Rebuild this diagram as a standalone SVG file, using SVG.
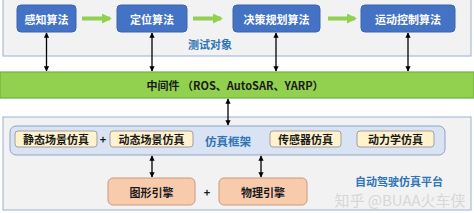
<svg xmlns="http://www.w3.org/2000/svg" width="474" height="213" viewBox="0 0 474 213">
<style>
text{font-family:"Noto Sans CJK SC","Noto Sans",sans-serif;font-weight:bold;font-size:11px;text-anchor:middle;dominant-baseline:central}
.panel{fill:#f2f2f2;stroke:#a9bcd8;stroke-width:1.2}
.algo{fill:#4472c4;stroke:#3a64ad;stroke-width:1}
.algo-t{fill:#ffffff}
.sim{fill:#fff2cc;stroke:#a0a0a0;stroke-width:1}
.eng{fill:#f8cbad;stroke:#c99a7c;stroke-width:1}
.dark{fill:#1a1a1a}
.blue{fill:#2e75b6}
.conn{stroke:#000;stroke-width:1.3;fill:none;marker-start:url(#ah);marker-end:url(#ah)}
.garrow{stroke:#92d050;stroke-width:4;fill:none;marker-end:url(#gh)}
</style>
<defs>
<marker id="ah" viewBox="0 0 10 10" refX="9" refY="5" markerWidth="4" markerHeight="4" orient="auto-start-reverse"><path d="M0,0L10,5L0,10z" fill="#000"/></marker>
<marker id="gh" viewBox="0 0 10 10" refX="8" refY="5" markerWidth="2.5" markerHeight="2.5" orient="auto"><path d="M0,0L10,5L0,10z" fill="#92d050"/></marker>
</defs>
<rect width="474" height="213" fill="#ffffff"/>
<g id="test-panel">
<rect class="panel" x="3" y="-2" width="468" height="58"/>
<text class="blue" x="210" y="44">测试对象</text>
</g>
<g id="perception"><rect class="algo" x="17" y="5" width="59" height="27" rx="4"/><text class="algo-t" x="46.5" y="18.5">感知算法</text></g>
<g id="localization"><rect class="algo" x="117" y="5" width="70" height="27" rx="4"/><text class="algo-t" x="152" y="18.5">定位算法</text></g>
<g id="planning"><rect class="algo" x="233" y="5" width="87" height="27" rx="4"/><text class="algo-t" x="276.5" y="18.5">决策规划算法</text></g>
<g id="control"><rect class="algo" x="361" y="5" width="94" height="27" rx="4"/><text class="algo-t" x="408" y="18.5">运动控制算法</text></g>
<g id="middleware">
<rect x="0" y="72" width="474" height="26" fill="#92d050" stroke="#74b03c" stroke-width="1.2"/>
<text class="dark" x="235" y="85">中间件 （ROS、AutoSAR、YARP）</text>
</g>
<g id="platform-panel">
<rect class="panel" x="3" y="117" width="468" height="93"/>
<text class="blue" x="399" y="181">自动驾驶仿真平台</text>
</g>
<g id="sim-framework">
<rect x="10" y="126" width="435" height="29" rx="6" fill="#dae3f3" stroke="#8ea3c2" stroke-width="1"/>
<text class="blue" x="228" y="141" style="font-size:11.5px">仿真框架</text>
</g>
<g id="static-sim"><rect class="sim" x="15" y="131" width="82" height="16" rx="3"/><text class="dark" x="56" y="139">静态场景仿真</text></g>
<text class="dark" x="103" y="139">+</text>
<g id="dynamic-sim"><rect class="sim" x="110" y="131" width="83" height="16" rx="3"/><text class="dark" x="151.5" y="139">动态场景仿真</text></g>
<g id="sensor-sim"><rect class="sim" x="270" y="131" width="71" height="16" rx="3"/><text class="dark" x="305.5" y="139">传感器仿真</text></g>
<g id="dynamics-sim"><rect class="sim" x="357" y="131" width="77" height="16" rx="3"/><text class="dark" x="395.5" y="139">动力学仿真</text></g>
<g id="graphics-engine"><rect class="eng" x="108" y="178" width="87" height="27" rx="5"/><text class="dark" x="151.5" y="191.5">图形引擎</text></g>
<text class="dark" x="207" y="191.5">+</text>
<g id="physics-engine"><rect class="eng" x="219" y="178" width="88" height="27" rx="5"/><text class="dark" x="263" y="191.5">物理引擎</text></g>
<g id="connectors">
<line class="garrow" x1="82" y1="18.5" x2="110" y2="18.5"/>
<line class="garrow" x1="193" y1="18.5" x2="221" y2="18.5"/>
<line class="garrow" x1="328" y1="18.5" x2="355" y2="18.5"/>
<line class="conn" x1="46.5" y1="33" x2="46.5" y2="71"/>
<line class="conn" x1="152" y1="33" x2="152" y2="71"/>
<line class="conn" x1="276" y1="33" x2="276" y2="71"/>
<line class="conn" x1="408" y1="33" x2="408" y2="71"/>
<line class="conn" x1="228" y1="99" x2="228" y2="125"/>
<line class="conn" x1="152" y1="156" x2="152" y2="177"/>
<line class="conn" x1="261" y1="156" x2="261" y2="177"/>
</g>
<text x="400" y="199" style="font-weight:normal;font-size:15px;fill:#d0d0d0;fill-opacity:0.8">知乎 @BUAA火车侠</text>
</svg>
